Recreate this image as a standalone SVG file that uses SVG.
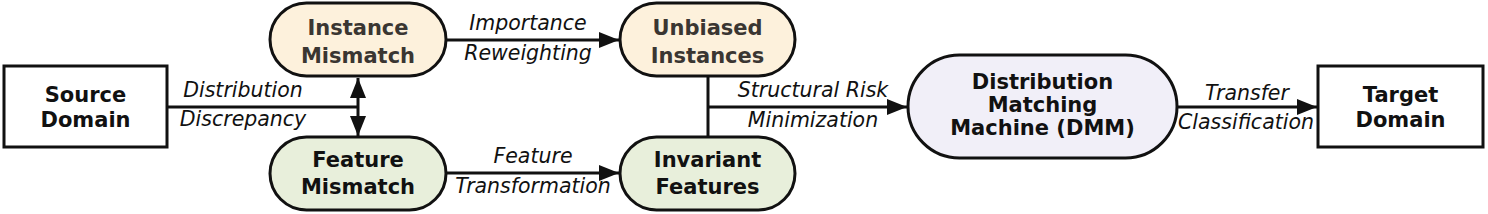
<svg xmlns="http://www.w3.org/2000/svg" width="1488" height="214" viewBox="0 0 1488 214">
<style>
.box{fill:#fff;stroke:#111;stroke-width:3}
.inst{fill:#fdf1dc;stroke:#111;stroke-width:3}
.feat{fill:#e8efdb;stroke:#111;stroke-width:3}
.dmm{fill:#f1eff8;stroke:#111;stroke-width:3}
.t{font-family:"DejaVu Sans",Verdana,sans-serif;font-weight:bold;font-size:21px;text-anchor:middle;fill:#111}
.ti{fill:#3a3632}
.lab{font-family:"DejaVu Sans",Verdana,sans-serif;font-style:italic;font-size:20.5px;text-anchor:middle;fill:#111}
.ln{stroke:#111;stroke-width:3;fill:none}
</style>
<defs>
<marker id="ah" markerUnits="userSpaceOnUse" markerWidth="22" markerHeight="16" refX="20" refY="8" orient="auto-start-reverse">
<path d="M0,0 L20,8 L0,16 Z" fill="#111"/>
</marker>
</defs>
<g id="connectors">
<line class="ln" x1="167" y1="107" x2="358" y2="107"/>
<line class="ln" x1="358" y1="78" x2="358" y2="136" marker-start="url(#ah)" marker-end="url(#ah)"/>
<line class="ln" x1="446" y1="40" x2="619" y2="40" marker-end="url(#ah)"/>
<line class="ln" x1="446" y1="173" x2="619" y2="173" marker-end="url(#ah)"/>
<line class="ln" x1="708" y1="76" x2="708" y2="137"/>
<line class="ln" x1="708" y1="107" x2="907" y2="107" marker-end="url(#ah)"/>
<line class="ln" x1="1177" y1="107" x2="1317" y2="107" marker-end="url(#ah)"/>
<text class="lab" x="243" y="97">Distribution</text>
<text class="lab" x="243" y="126">Discrepancy</text>
<text class="lab" x="528" y="30">Importance</text>
<text class="lab" x="528" y="60">Reweighting</text>
<text class="lab" x="533" y="163">Feature</text>
<text class="lab" x="533" y="193">Transformation</text>
<text class="lab" x="813" y="97">Structural Risk</text>
<text class="lab" x="813" y="127">Minimization</text>
<text class="lab" x="1247" y="100">Transfer</text>
<text class="lab" x="1246" y="129">Classification</text>
</g>
<g id="source">
<rect class="box" x="4" y="66" width="163" height="81"/>
<text class="t" x="85.5" y="102">Source</text>
<text class="t" x="85.5" y="127">Domain</text>
</g>
<g id="instance-mismatch">
<rect class="inst" x="270" y="3" width="176" height="73" rx="36.5"/>
<text class="t ti" x="358" y="35">Instance</text>
<text class="t ti" x="358" y="63">Mismatch</text>
</g>
<g id="feature-mismatch">
<rect class="feat" x="270" y="137" width="176" height="73" rx="36.5"/>
<text class="t" x="358" y="167">Feature</text>
<text class="t" x="358" y="194">Mismatch</text>
</g>
<g id="unbiased-instances">
<rect class="inst" x="620" y="3" width="175" height="73" rx="36.5"/>
<text class="t ti" x="707.5" y="35">Unbiased</text>
<text class="t ti" x="707.5" y="63">Instances</text>
</g>
<g id="invariant-features">
<rect class="feat" x="620" y="137" width="175" height="73" rx="36.5"/>
<text class="t" x="707.5" y="167">Invariant</text>
<text class="t" x="707.5" y="194">Features</text>
</g>
<g id="dmm">
<rect class="dmm" x="908" y="55" width="269" height="103" rx="51.5"/>
<text class="t" x="1042.5" y="89">Distribution</text>
<text class="t" x="1042.5" y="112">Matching</text>
<text class="t" x="1042.5" y="135">Machine (DMM)</text>
</g>
<g id="target">
<rect class="box" x="1318" y="66" width="165" height="81"/>
<text class="t" x="1400.5" y="102">Target</text>
<text class="t" x="1400.5" y="127">Domain</text>
</g>
</svg>
